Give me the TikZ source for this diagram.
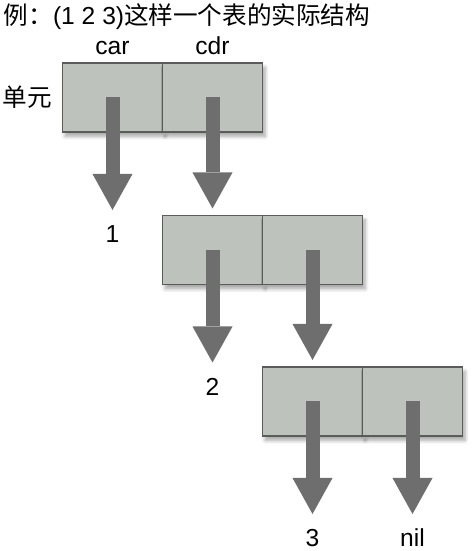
\documentclass[tikz,border=0pt]{standalone}
\usepackage{fontspec}
\setmainfont{Liberation Sans}
\newfontfamily\cjk{Noto Sans CJK SC}
\usetikzlibrary{positioning,arrows.meta,shadows.blur}
\definecolor{cellgray}{HTML}{BEC2BD}
\definecolor{edgegray}{HTML}{5A5C5A}
\definecolor{arrgray}{HTML}{6D6E6D}

\begin{document}
\begin{tikzpicture}[
    every node/.style={font=\fontsize{14}{16}\selectfont},
    half/.style={
        draw=edgegray, fill=cellgray, line width=0.8pt,
        minimum width=2cm, minimum height=1.38cm,
        inner sep=0pt, outer sep=0pt,
        blur shadow={shadow xshift=1.5pt, shadow yshift=-2.5pt, shadow blur steps=6, shadow opacity=35}
    },
    fatarr/.style={
        -{Triangle[length=0.72cm, width=0.8cm, line width=0pt]},
        line width=0.28cm, draw=arrgray
    },
    val/.style={inner sep=0pt, text height=10pt, text depth=0pt},
    hdr/.style={inner sep=0pt, text depth=0pt},
]
\useasboundingbox (0,0) rectangle (9.48,11.02);

% === Title ===
\node[anchor=west, inner sep=0pt] (title) at (0.07,10.68)
    {{\cjk 例：}(1 2 3){\cjk 这样一个表的实际结构}};

% === Cells ===
\node[half] (c1car) at (2.25,9.07) {};
\node[half, right=0pt of c1car] (c1cdr) {};

\node[half, below=1.67cm of c1cdr] (c2car) {};
\node[half, right=0pt of c2car] (c2cdr) {};

\node[half, below=1.65cm of c2cdr] (c3car) {};
\node[half, right=0pt of c3car] (c3cdr) {};

% Field names
\node[hdr, above=0.16cm of c1car] (carname) {car};
\node[hdr, above=0.16cm of c1cdr] (cdrname) {cdr};
\node[left=0.2cm of c1car, inner sep=0pt] (cellname) {\cjk 单元};

% === Values ===
\node[val, below=1.86cm of c1car] (v1) {1};
\node[val, below=1.86cm of c2car] (v2) {2};
\node[val, below=1.86cm of c3car] (v3) {3};
\node[val, below=1.86cm of c3cdr] (vnil) {nil};

% === Pointers ===
\draw[fatarr, shorten >=0.3cm] (c1car.center) -- (v1);
\draw[fatarr, shorten >=0.14cm] (c1cdr.center) -- (c2car.north);
\draw[fatarr, shorten >=0.3cm] (c2car.center) -- (v2);
\draw[fatarr, shorten >=0.14cm] (c2cdr.center) -- (c3car.north);
\draw[fatarr, shorten >=0.3cm] (c3car.center) -- (v3);
\draw[fatarr, shorten >=0.3cm] (c3cdr.center) -- (vnil);

\end{tikzpicture}
\end{document}
